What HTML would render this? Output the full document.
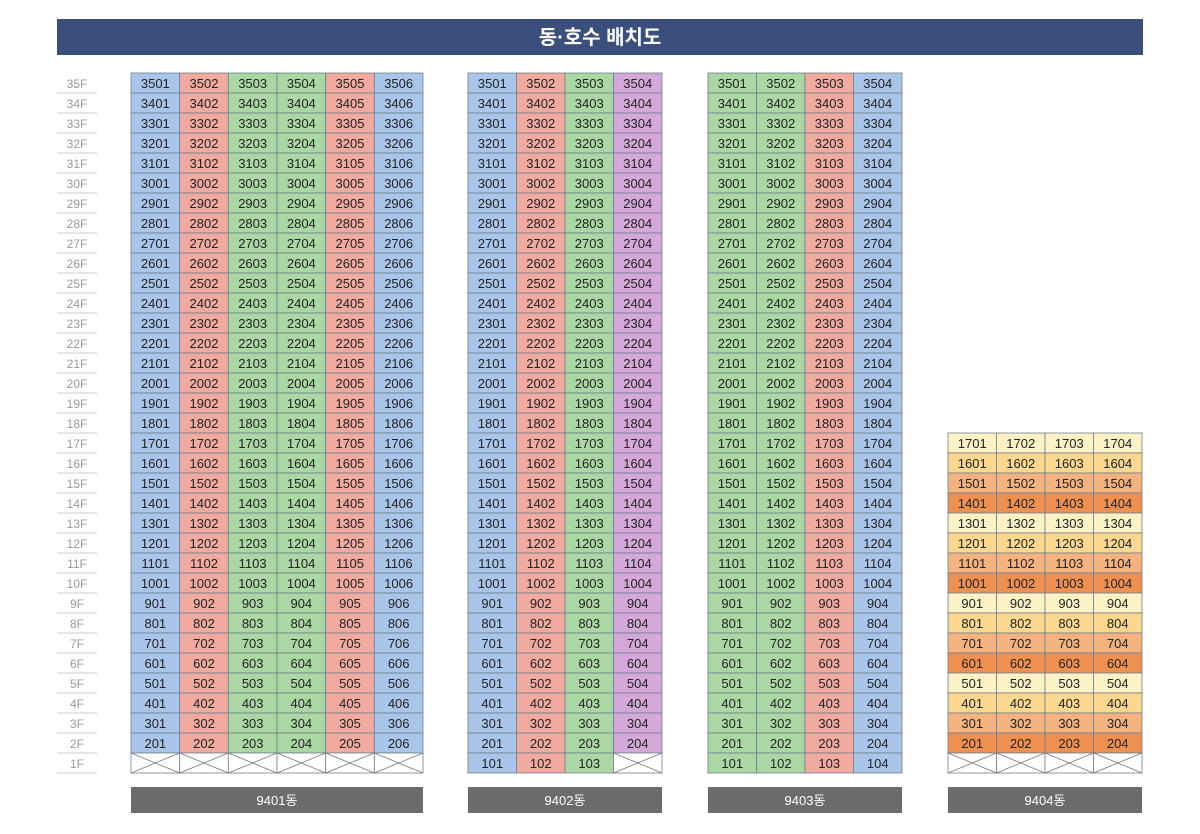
<!DOCTYPE html>
<html><head><meta charset="utf-8"><style>
body{margin:0;background:#fff;width:1200px;height:829px;overflow:hidden}
svg text{font-family:"Liberation Sans","Noto Sans CJK KR",sans-serif}
</style></head><body>
<svg id="s" width="1200" height="829" xmlns="http://www.w3.org/2000/svg">
<rect x="57" y="19" width="1086" height="36" fill="#3b4f7d"/>
<text x="600" y="44" text-anchor="middle" fill="#fff" font-size="20" font-weight="bold">동·호수 배치도</text>
</svg>
<script>
const C={b:'#a9c5ea',r:'#f1aa9f',g:'#aad7a3',p:'#d4a8d8'};
const yellowCycle=['#fdf2c6','#fbd88e','#f4b27f','#ee9150'];
const buildings=[
 {name:'9401동',x:131,w:292,cols:['b','r','g','g','r','b'],top:35,first:2,firstUnits:[]},
 {name:'9402동',x:468,w:194,cols:['b','r','g','p'],top:35,first:2,firstUnits:[1,2,3]},
 {name:'9403동',x:708,w:194,cols:['g','g','r','b'],top:35,first:2,firstUnits:[1,2,3,4]},
 {name:'9404동',x:948,w:194,cols:null,top:17,first:2,firstUnits:[]}
];
const s=document.getElementById('s');const NS='http://www.w3.org/2000/svg';
function mk(t,a,txt){const e=document.createElementNS(NS,t);for(const k in a)e.setAttribute(k,a[k]);if(txt!=null)e.textContent=txt;s.appendChild(e);return e;}
const Y0=73,RH=20;
function rowY(f){return Y0+(35-f)*RH;}
for(let f=35;f>=1;f--){
 const y=rowY(f);
 const t=mk('text',{x:77,y:y+15,'text-anchor':'middle','font-size':12,fill:'#999'},f+'F');
 
 
 const l=mk('line',{x1:57,x2:97,y1:y+RH,y2:y+RH,stroke:'#ccc','stroke-width':1});
 
 
}
buildings.forEach(b=>{
 const n=b.cols?b.cols.length:4;const cw=b.w/n;
 for(let f=b.top;f>=1;f--){
  const y=rowY(f);
  for(let c=0;c<n;c++){
   const x=b.x+c*cw;
   const has=f>=b.first||b.firstUnits.includes(c+1);
   let fill='#fff';
   if(has){fill=b.cols?C[b.cols[c]]:yellowCycle[(b.top-f)%4];}
   const r=mk('rect',{x:x,y:y,width:cw,height:RH,fill:fill,stroke:'#6f7f8f','stroke-width':0.8});
   
   
   if(has){
    const t=mk('text',{x:x+cw/2,y:y+15,'text-anchor':'middle','font-size':13,fill:'#222'},String(f*100+c+1));
    
    
   }else{
    const p=mk('path',{d:`M${x} ${y}L${x+cw} ${y+RH}M${x+cw} ${y}L${x} ${y+RH}`,stroke:'#777','stroke-width':0.8,fill:'none'});
    
    
   }
  }
 }
 const fr=mk('rect',{x:b.x,y:787,width:b.w,height:26,fill:'#6b6b6b'});
 
 
 const ft=mk('text',{x:b.x+b.w/2,y:805,'text-anchor':'middle','font-size':13,fill:'#fff'},b.name);
 
 
});
</script>
</body></html>
